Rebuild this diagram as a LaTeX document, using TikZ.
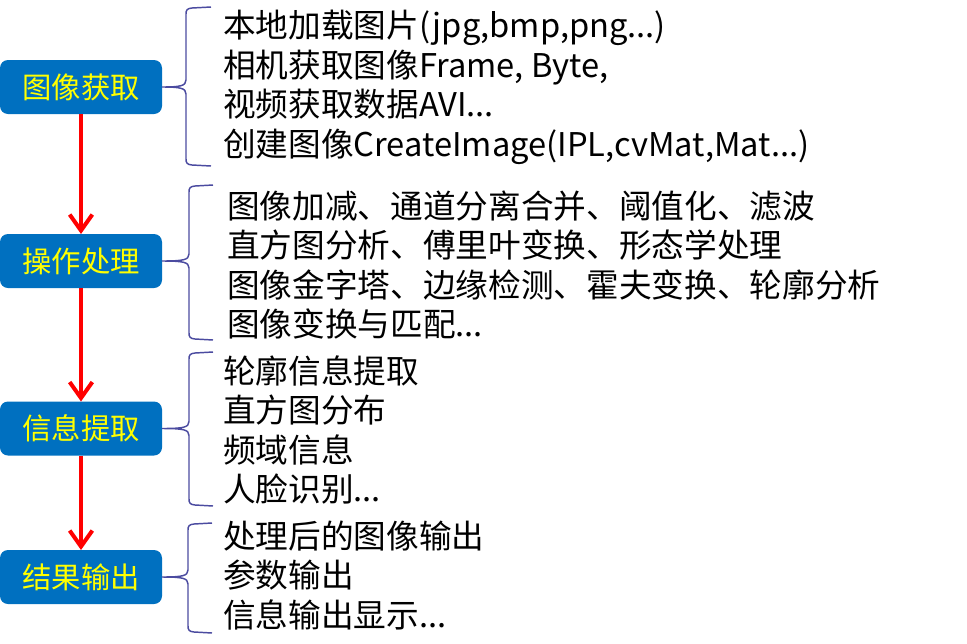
\documentclass[tikz,border=0pt]{standalone}
\usepackage{fontspec}
\setmainfont{Noto Sans CJK SC}
\usepackage{tikz}
\definecolor{c0070C0}{RGB}{0,112,192}
\definecolor{cFFFF00}{RGB}{255,255,0}
\definecolor{cFF0000}{RGB}{255,0,0}
\definecolor{c4B4BA0}{RGB}{75,75,160}
\usetikzlibrary{arrows.meta}

\begin{document}
\begin{tikzpicture}[y=0.75pt,x=0.75pt,yscale=-1, inner sep=0pt, outer sep=0pt,
    stage/.style={fill=c0070C0,rounded corners=6pt,minimum width=121.5pt,
      minimum height=40.5pt,text=cFFFF00,font=\fontsize{22}{22}\selectfont},
    items/.style={anchor=west,align=left,font=\fontsize{24.5}{29.6}\selectfont},
    flow/.style={draw=cFF0000,line width=3pt,-{Straight Barb[length=12pt,width=17pt]}},
    group/.style={draw=c4B4BA0,line width=1.1pt}]
    \path[use as bounding box] (0,0) rectangle (967,643);

    % stages
    \node[stage] (acq) at (81,87) {图像获取};
    \node[stage] (proc) at (81,261) {操作处理};
    \node[stage] (info) at (81,428.5) {信息提取};
    \node[stage] (out) at (81,577) {结果输出};
    \draw[flow] (acq) -- (proc);
    \draw[flow] (proc) -- (info);
    \draw[flow] (info) -- (out);

    % braces
    \draw[group] (211,7) -- (192,8) .. controls (187,8.5) and (186,10) .. (186,14)
      -- (186,80) .. controls (186,86) and (180,87) .. (acq.east)
      .. controls (180,87) and (186,88) .. (186,94) -- (186,159)
      .. controls (186,163) and (187,164.5) .. (192,165) -- (211,166);
    \draw[group] (213,185) -- (195,186) .. controls (190,186.5) and (189,188) .. (189,192)
      -- (189,254) .. controls (189,260) and (183,261) .. (proc.east)
      .. controls (183,261) and (189,262) .. (189,268) -- (189,333)
      .. controls (189,337) and (190,338.5) .. (195,339) -- (213,340);
    \draw[group] (213,352) -- (195,353) .. controls (190,353.5) and (189,355) .. (189,359)
      -- (189,421.5) .. controls (189,427.5) and (183,428.5) .. (info.east)
      .. controls (183,428.5) and (189,429.5) .. (189,435.5) -- (189,499)
      .. controls (189,503) and (190,504.5) .. (195,505) -- (213,506);
    \draw[group] (212,523) -- (194,524) .. controls (189,524.5) and (188,526) .. (188,530)
      -- (188,570) .. controls (188,576) and (182,577) .. (out.east)
      .. controls (182,577) and (188,578) .. (188,584) -- (188,626)
      .. controls (188,630) and (189,631.5) .. (194,632) -- (212,633);

    % lists
    \node[items] (acqlist) at (223,87.5) {本地加载图片(jpg,bmp,png...)\\
      相机获取图像Frame, Byte,\\
      视频获取数据AVI...\\
      创建图像CreateImage(IPL,cvMat,Mat...)};
    \node[items] (proclist) at (227,265) {图像加减、通道分离合并、阈值化、滤波\\
      直方图分析、傅里叶变换、形态学处理\\
      图像金字塔、边缘检测、霍夫变换、轮廓分析\\
      图像变换与匹配...};
    \node[items] (infolist) at (223,430) {轮廓信息提取\\
      直方图分布\\
      频域信息\\
      人脸识别...};
    \node[items] (outlist) at (223,575.5) {处理后的图像输出\\
      参数输出\\
      信息输出显示...};
\end{tikzpicture}
\end{document}
